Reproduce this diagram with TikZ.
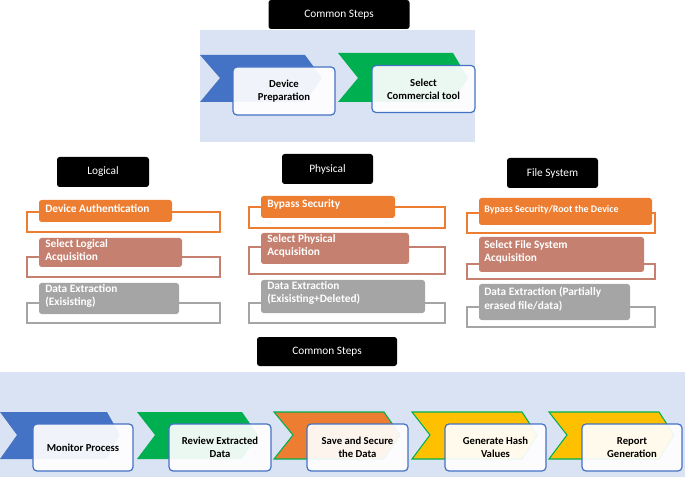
\documentclass[tikz,border=0pt]{standalone}
\usepackage{fontspec}
\setmainfont{Carlito}
\begin{document}
\begin{tikzpicture}[x=0.75pt,y=-0.75pt,
  blk/.style={fill=black,rounded corners=2pt,text=white,font=\fontsize{8.5}{10}\selectfont},
  wbox/.style={draw=bluec,line width=0.9pt,fill=white,fill opacity=0.92,text opacity=1,rounded corners=3pt,align=center,font=\bfseries\fontsize{8}{9.5}\selectfont},
  stp/.style={rounded corners=2pt,text=white,align=left,anchor=north west,inner sep=0pt,font=\bfseries\fontsize{8.5}{10}\selectfont},
  brk/.style={line width=1pt}]
\definecolor{bluec}{HTML}{4472C4}
\definecolor{greenc}{HTML}{00B050}
\definecolor{orangec}{HTML}{ED7D31}
\definecolor{brownc}{HTML}{C5806F}
\definecolor{grayc}{HTML}{A5A5A5}
\definecolor{yellowc}{HTML}{FFC000}
\definecolor{panel}{HTML}{DAE3F3}
\useasboundingbox (0,0) rectangle (685,477);
% top
\fill[panel] (200,30) rectangle (475,142);
\node[blk,minimum width=141*0.75pt,minimum height=29*0.75pt] (cs1) at (339,14.5) {Common Steps};
\fill[bluec] (200,55) -- (305,55) -- (322,78) -- (305,102) -- (200,102) -- (220,78) -- cycle;
\fill[greenc] (338,53) -- (453,53) -- (468,78) -- (453,102) -- (338,102) -- (358,78) -- cycle;
\node[wbox,minimum width=102*0.75pt,minimum height=48*0.75pt] (dp) at (284,91) {Device\\Preparation};
\node[wbox,minimum width=103*0.75pt,minimum height=47*0.75pt] (sc) at (423.5,89) {Select\\Commercial tool};
% headers
\node[blk,minimum width=92*0.75pt,minimum height=30*0.75pt] (lg) at (103,172) {Logical};
\node[blk,minimum width=91*0.75pt,minimum height=30*0.75pt] (ph) at (327.5,169) {Physical};
\node[blk,minimum width=91*0.75pt,minimum height=30*0.75pt] (fs) at (552.5,173) {File System};
% logical
\draw[brk,orangec] (27,212) rectangle (220,232);
\fill[orangec,rounded corners=2pt] (39,200) rectangle (172,222);
\node[stp] (l1) at (45,204) {Device Authentication};
\draw[brk,brownc] (27,257) rectangle (220,277);
\fill[brownc,rounded corners=2pt] (39,238) rectangle (182,267);
\node[stp] (l2) at (45,239) {Select Logical\\Acquisition};
\draw[brk,grayc] (27,303) rectangle (220,323);
\fill[grayc,rounded corners=2pt] (39,283) rectangle (179,314);
\node[stp] (l3) at (45,284) {Data Extraction\\(Exisisting)};
% physical
\draw[brk,orangec] (249,207) rectangle (445,228);
\fill[orangec,rounded corners=2pt] (261,196) rectangle (395,218);
\node[stp] (p1) at (267,199) {Bypass Security};
\draw[brk,brownc] (249,247) rectangle (445,274);
\fill[brownc,rounded corners=2pt] (261,233) rectangle (409,264);
\node[stp] (p2) at (267,234) {Select Physical\\Acquisition};
\draw[brk,grayc] (249,303) rectangle (445,323);
\fill[grayc,rounded corners=2pt] (261,280) rectangle (425,313);
\node[stp] (p3) at (267,281) {Data Extraction\\(Exisisting+Deleted)};
% file system
\draw[brk,orangec] (467,213) rectangle (655,233);
\fill[orangec,rounded corners=2pt] (479,198) rectangle (652,225);
\node[stp,font=\bfseries\fontsize{7.5}{9}\selectfont] (f1) at (484,205) {Bypass Security/Root the Device};
\draw[brk,brownc] (467,264) rectangle (655,279);
\fill[brownc,rounded corners=2pt] (479,237) rectangle (644,272);
\node[stp] (f2) at (484,240) {Select File System\\Acquisition};
\draw[brk,grayc] (467,307) rectangle (655,327);
\fill[grayc,rounded corners=2pt] (479,284) rectangle (630,320);
\node[stp] (f3) at (484,287) {Data Extraction (Partially\\erased file/data)};
% bottom
\node[blk,minimum width=140*0.75pt,minimum height=29*0.75pt] (cs2) at (327,351.5) {Common Steps};
\fill[panel] (0,372) rectangle (685,477);
\fill[bluec] (0,412) -- (107,412) -- (120,435) -- (107,459) -- (0,459) -- (17,435) -- cycle;
\fill[greenc] (137,412) -- (242,412) -- (258,435) -- (242,459) -- (137,459) -- (155,435) -- cycle;
\filldraw[orangec,draw=greenc,line width=0.8pt] (274,412) -- (384,412) -- (400,435) -- (384,459) -- (274,459) -- (293,435) -- cycle;
\filldraw[yellowc,draw=greenc,line width=0.8pt] (412,412) -- (522,412) -- (537,435) -- (522,459) -- (412,459) -- (430,435) -- cycle;
\filldraw[yellowc,draw=greenc,line width=0.8pt] (549,412) -- (659,412) -- (674,435) -- (659,459) -- (549,459) -- (567,435) -- cycle;
\node[wbox,minimum width=100*0.75pt,minimum height=47*0.75pt] (b1) at (83,447.5) {Monitor Process};
\node[wbox,minimum width=102*0.75pt,minimum height=47*0.75pt] (b2) at (220,447.5) {Review Extracted\\Data};
\node[wbox,minimum width=101*0.75pt,minimum height=47*0.75pt] (b3) at (357.5,447.5) {Save and Secure\\the Data};
\node[wbox,minimum width=101*0.75pt,minimum height=47*0.75pt] (b4) at (495.5,447.5) {Generate Hash\\Values};
\node[wbox,minimum width=100*0.75pt,minimum height=47*0.75pt] (b5) at (632,447.5) {Report\\Generation};
\end{tikzpicture}
\end{document}
